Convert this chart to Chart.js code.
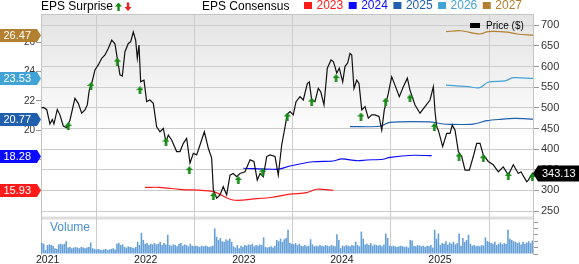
<!DOCTYPE html>
<html>
<head>
<meta charset="utf-8">
<script src="https://cdn.jsdelivr.net/npm/chart.js@4/dist/chart.umd.min.js"></script>
<style>
  html, body { margin: 0; padding: 0; background: #fff; }
  canvas { display: block; }
</style>
</head>
<body>
<canvas id="c" width="579" height="264"></canvas>
<script>
// ---- Price history (decimal year, $) ----
const priceDates = [2020.937, 2020.955, 2020.990, 2021.023, 2021.047, 2021.064, 2021.098, 2021.125, 2021.159, 2021.194,
  2021.227, 2021.278, 2021.312, 2021.347, 2021.380, 2021.404, 2021.424, 2021.449, 2021.482, 2021.516,
  2021.551, 2021.584, 2021.618, 2021.653, 2021.686, 2021.710, 2021.737, 2021.761, 2021.788, 2021.822,
  2021.846, 2021.873, 2021.897, 2021.914, 2021.931, 2021.948, 2021.982, 2022.009, 2022.043, 2022.077,
  2022.111, 2022.145, 2022.179, 2022.206, 2022.230, 2022.264, 2022.315, 2022.349, 2022.383, 2022.417,
  2022.451, 2022.485, 2022.519, 2022.553, 2022.597, 2022.638, 2022.672, 2022.689, 2022.723, 2022.757,
  2022.790, 2022.825, 2022.859, 2022.892, 2022.927, 2022.961, 2023.012, 2023.063, 2023.103, 2023.137,
  2023.165, 2023.198, 2023.233, 2023.267, 2023.318, 2023.351, 2023.386, 2023.420, 2023.443, 2023.471,
  2023.504, 2023.532, 2023.573, 2023.606, 2023.647, 2023.667, 2023.692, 2023.725, 2023.759, 2023.784,
  2023.817, 2023.851, 2023.889, 2023.912, 2023.929, 2023.947, 2023.973, 2024.008, 2024.031, 2024.059,
  2024.082, 2024.100, 2024.123, 2024.151, 2024.174, 2024.202, 2024.235, 2024.269, 2024.304, 2024.337,
  2024.378, 2024.406, 2024.432, 2024.473, 2024.507, 2024.541, 2024.585, 2024.626, 2024.667, 2024.694,
  2024.745, 2024.796, 2024.847, 2024.898, 2024.932, 2024.949, 2024.966, 2024.983, 2025.027, 2025.068,
  2025.102, 2025.125, 2025.153, 2025.187, 2025.221, 2025.255, 2025.299, 2025.339, 2025.374, 2025.408,
  2025.441, 2025.492, 2025.543, 2025.594, 2025.645, 2025.696, 2025.747, 2025.798, 2025.826, 2025.849,
  2025.884, 2025.900, 2025.948];
const priceValues = [500, 501, 496, 461, 472, 461, 496, 483, 456, 452,
  470, 523, 511, 487, 495, 507, 543, 559, 592, 604,
  620, 628, 644, 664, 655, 620, 580, 577, 636, 656,
  660, 684, 664, 620, 652, 563, 567, 515, 519, 511,
  454, 442, 450, 418, 434, 422, 394, 394, 414, 426,
  366, 390, 386, 410, 442, 402, 378, 301, 281, 289,
  309, 289, 337, 341, 333, 341, 345, 374, 370, 325,
  341, 333, 382, 386, 382, 337, 410, 454, 485, 491,
  483, 515, 527, 519, 559, 563, 519, 515, 547, 539,
  507, 596, 616, 612, 600, 584, 596, 563, 600, 609,
  632, 628, 547, 567, 559, 495, 503, 475, 483, 483,
  479, 446, 495, 535, 575, 555, 527, 551, 572, 543,
  507, 487, 503, 519, 551, 491, 454, 446, 406, 438,
  438, 458, 446, 394, 382, 349, 349, 382, 414, 414,
  386, 370, 362, 345, 357, 337, 362, 341, 345, 335,
  321, 325, 343.13];

// ---- EPS surprise events (all positive beats), plotted on the price line ----
const surpriseDates = [2021.210, 2021.441, 2021.710, 2021.941, 2022.206, 2022.444, 2022.689, 2022.943, 2023.192, 2023.443,
  2023.692, 2023.940, 2024.194, 2024.446, 2024.694, 2024.942, 2025.194, 2025.441, 2025.696, 2025.941];
const surprisePrices = [456, 553, 612, 543, 418, 349, 286, 325, 345, 479,
  515, 572, 479, 515, 523, 454, 382, 378, 335, 333];

// ---- EPS consensus by fiscal year ----
const eps2023Dates = [2021.992, 2022.145, 2022.349, 2022.685, 2022.889, 2023.131, 2023.297, 2023.471, 2023.641, 2023.743, 2023.912];
const eps2023 = [16.13, 16.13, 15.99, 15.84, 15.27, 15.36, 15.46, 15.67, 15.77, 16.00, 15.93];
const eps2024Dates = [2022.994, 2023.297, 2023.369, 2023.471, 2023.705, 2023.909, 2023.998, 2024.151, 2024.253, 2024.419, 2024.490, 2024.725, 2024.915];
const eps2024 = [17.43, 17.36, 17.38, 17.58, 17.87, 17.92, 18.06, 17.94, 17.99, 18.04, 18.17, 18.31, 18.28];
const eps2025Dates = [2024.082, 2024.388, 2024.490, 2024.898, 2024.999, 2025.102, 2025.336, 2025.479, 2025.612, 2025.765, 2025.948];
const eps2025 = [20.26, 20.28, 20.55, 20.58, 20.47, 20.41, 20.43, 20.66, 20.75, 20.81, 20.77];
const eps2026Dates = [2025.061, 2025.286, 2025.405, 2025.490, 2025.663, 2025.745, 2025.948];
const eps2026 = [23.08, 22.97, 22.90, 23.27, 23.36, 23.58, 23.53];
const eps2027Dates = [2025.061, 2025.211, 2025.408, 2025.490, 2025.684, 2025.786, 2025.948];
const eps2027 = [26.71, 26.77, 26.55, 26.71, 26.68, 26.55, 26.47];

// ---- Weekly volume (thousands of shares) ----
const volumeStart = 2020.94;
const weekInYears = 7 / 365.25;
const volumeK = [17, 16, 6, 14, 15, 14, 13, 9, 8, 15,
  16, 15, 16, 20, 10, 11, 9, 10, 11, 10,
  9, 11, 10, 9, 10, 11, 18, 9, 8, 7,
  8, 7, 6, 7, 8, 6, 7, 8, 9, 7,
  16, 17, 14, 15, 11, 10, 12, 11, 10, 9,
  11, 19, 14, 33, 22, 16, 17, 14, 16, 15,
  17, 15, 16, 19, 14, 17, 15, 30, 14, 13,
  15, 14, 12, 16, 17, 13, 15, 14, 12, 16,
  13, 12, 13, 12, 11, 13, 12, 13, 12, 11,
  12, 13, 40, 27, 22, 25, 20, 19, 23, 21,
  24, 19, 12, 10, 14, 9, 13, 11, 14, 13,
  15, 14, 16, 12, 14, 13, 15, 14, 26, 11,
  10, 11, 12, 10, 13, 22, 20, 24, 19, 23,
  25, 38, 17, 16, 15, 17, 14, 16, 13, 12,
  14, 12, 13, 23, 15, 12, 13, 12, 14, 13,
  12, 14, 13, 12, 14, 13, 12, 31, 22, 9,
  13, 12, 14, 13, 12, 14, 13, 19, 14, 12,
  35, 24, 15, 16, 14, 17, 13, 15, 14, 13,
  14, 12, 15, 32, 25, 13, 12, 13, 12, 11,
  12, 13, 12, 11, 12, 10, 22, 21, 13, 12,
  14, 13, 12, 13, 11, 13, 12, 14, 10, 38,
  24, 32, 14, 17, 16, 20, 15, 18, 16, 19,
  15, 17, 32, 13, 25, 19, 22, 30, 16, 13,
  14, 12, 13, 12, 14, 13, 26, 20, 19, 17,
  16, 19, 14, 16, 18, 15, 17, 16, 38, 24,
  22, 20, 19, 17, 18, 15, 19, 16, 18, 20,
  17, 21];

// ---- Axis tick values ----
const yearTicks = [2021, 2022, 2023, 2024, 2025];
const priceTicks = [250, 300, 350, 400, 450, 500, 550, 600, 650, 700];
const epsTicks = [16, 18, 20, 22, 24, 26];
const volumeTicks = [0, 10, 20, 30, 40, 50];

const FONT = "'Liberation Sans', Arial, Helvetica, sans-serif";
const COLORS = {
  price: '#111111',
  y2023: '#ff1a1a',
  y2024: '#0a0aff',
  y2025: '#1f5fae',
  y2026: '#41a3d6',
  y2027: '#b3802f',
  beat: '#158a15',
  miss: '#ee1c1c',
  volume: '#649fd8',
  grid: '#cccccc'
};

const zip = (xs, ys) => xs.map((x, i) => ({ x, y: ys[i] }));

function arrowIcon(color) {
  const c = document.createElement('canvas');
  c.width = 7; c.height = 8;
  const g = c.getContext('2d');
  g.fillStyle = color;
  g.beginPath();
  g.moveTo(3.5, 0); g.lineTo(7, 4); g.lineTo(4.8, 4); g.lineTo(4.8, 8);
  g.lineTo(2.2, 8); g.lineTo(2.2, 4); g.lineTo(0, 4);
  g.closePath(); g.fill();
  return c;
}

const epsSeries = [
  { label: '2023', dates: eps2023Dates, values: eps2023, color: COLORS.y2023 },
  { label: '2024', dates: eps2024Dates, values: eps2024, color: COLORS.y2024 },
  { label: '2025', dates: eps2025Dates, values: eps2025, color: COLORS.y2025 },
  { label: '2026', dates: eps2026Dates, values: eps2026, color: COLORS.y2026 },
  { label: '2027', dates: eps2027Dates, values: eps2027, color: COLORS.y2027 }
];

// Panel backgrounds: grey-to-white price panel, divider, white volume panel
const PRICE_PANEL_SHARE = 0.844;
const panels = {
  id: 'panels',
  beforeDraw(chart) {
    const { ctx, chartArea: a } = chart;
    const split = a.top + (a.bottom - a.top) * PRICE_PANEL_SHARE;
    ctx.save();
    const grad = ctx.createLinearGradient(0, a.top, 0, split);
    grad.addColorStop(0, '#e3e3e3');
    grad.addColorStop(0.62, '#ffffff');
    grad.addColorStop(1, '#ffffff');
    ctx.fillStyle = grad;
    ctx.fillRect(a.left, a.top, a.right - a.left, split - a.top);
    ctx.fillStyle = '#dddddd';
    ctx.fillRect(a.left, split, a.right - a.left, 3);
    ctx.strokeStyle = '#c4c4c4';
    ctx.lineWidth = 1;
    ctx.beginPath();
    ctx.moveTo(a.left, a.top + 0.5); ctx.lineTo(a.right, a.top + 0.5);
    ctx.stroke();
    ctx.restore();
  }
};

// Header, value tags and panel captions
const overlay = {
  id: 'overlay',
  afterDraw(chart) {
    const { ctx, chartArea: a, scales } = chart;
    ctx.save();
    ctx.textBaseline = 'middle';

    // header: EPS Surprise with beat / miss arrows
    ctx.font = '12px ' + FONT;
    ctx.fillStyle = '#000';
    ctx.textAlign = 'left';
    ctx.fillText('EPS Surprise', a.left, 7);
    let x = a.left + ctx.measureText('EPS Surprise').width + 2;
    ctx.fillStyle = COLORS.beat;
    ctx.beginPath();
    ctx.moveTo(x + 3.5, 2.5); ctx.lineTo(x + 7, 6.5); ctx.lineTo(x + 4.7, 6.5); ctx.lineTo(x + 4.7, 11);
    ctx.lineTo(x + 2.3, 11); ctx.lineTo(x + 2.3, 6.5); ctx.lineTo(x, 6.5); ctx.closePath(); ctx.fill();
    x += 9.5;
    ctx.fillStyle = COLORS.miss;
    ctx.beginPath();
    ctx.moveTo(x + 3.5, 11); ctx.lineTo(x + 7, 7); ctx.lineTo(x + 4.7, 7); ctx.lineTo(x + 4.7, 2.5);
    ctx.lineTo(x + 2.3, 2.5); ctx.lineTo(x + 2.3, 7); ctx.lineTo(x, 7); ctx.closePath(); ctx.fill();

    // header: EPS Consensus legend
    ctx.fillStyle = '#000';
    ctx.fillText('EPS Consensus', 202, 7);
    x = 304;
    epsSeries.forEach(s => {
      ctx.fillStyle = s.color;
      ctx.fillRect(x, 2, 8, 7);
      x += 12.5;
      ctx.fillText(s.label, x, 6);
      x += ctx.measureText(s.label).width + 5.5;
    });

    // price legend inside the plot
    ctx.fillStyle = '#000';
    ctx.fillRect(470, 23, 10, 5);
    ctx.font = '10px ' + FONT;
    ctx.fillText('Price ($)', 486, 26);

    // volume caption
    ctx.font = '12px ' + FONT;
    ctx.fillStyle = '#4a8fd4';
    ctx.fillText('Volume', a.left + 9, 228);

    // latest EPS consensus tags on the left
    ctx.font = '11px ' + FONT;
    epsSeries.forEach(s => {
      const v = s.values[s.values.length - 1];
      const yy = Math.round(scales.yEps.getPixelForValue(v)) + 0.5;
      ctx.fillStyle = s.color;
      ctx.beginPath();
      ctx.moveTo(0, yy - 6.5); ctx.lineTo(37, yy - 6.5); ctx.lineTo(41, yy);
      ctx.lineTo(37, yy + 6.5); ctx.lineTo(0, yy + 6.5); ctx.closePath(); ctx.fill();
      ctx.fillStyle = '#fff';
      ctx.fillText(v.toFixed(2), 3.5, yy + 0.5);
    });

    // latest price tag on the right
    const last = priceValues[priceValues.length - 1];
    const py = Math.round(scales.yPrice.getPixelForValue(last)) + 0.5;
    ctx.fillStyle = '#000';
    ctx.beginPath();
    ctx.moveTo(a.right, py); ctx.lineTo(a.right + 5, py - 8); ctx.lineTo(579, py - 8);
    ctx.lineTo(579, py + 8); ctx.lineTo(a.right + 5, py + 8); ctx.closePath(); ctx.fill();
    ctx.fillStyle = '#fff';
    ctx.font = '11px ' + FONT;
    ctx.fillText(last.toFixed(2), a.right + 9, py + 0.5);
    ctx.restore();
  }
};

const datasets = [
  {
    type: 'scatter', label: 'EPS Surprise', data: zip(surpriseDates, surprisePrices),
    yAxisID: 'yPrice', pointStyle: arrowIcon(COLORS.beat), pointRadius: 4, clip: false, order: 0
  },
  {
    type: 'line', label: 'Price ($)', data: zip(priceDates, priceValues), yAxisID: 'yPrice',
    borderColor: COLORS.price, borderWidth: 1.2, pointRadius: 0, tension: 0, order: 1
  },
  ...epsSeries.map(s => ({
    type: 'line', label: s.label, data: zip(s.dates, s.values), yAxisID: 'yEps',
    borderColor: s.color, borderWidth: 1.2, pointRadius: 0, tension: 0.3, order: 2
  })),
  {
    type: 'bar', label: 'Volume', yAxisID: 'yVol',
    data: volumeK.map((v, i) => ({ x: volumeStart + i * weekInYears, y: v })),
    backgroundColor: COLORS.volume, barPercentage: 0.85, categoryPercentage: 1, order: 3
  }
];

new Chart(document.getElementById('c'), {
  type: 'line',
  data: { datasets },
  plugins: [panels, overlay],
  options: {
    responsive: false,
    animation: false,
    events: [],
    layout: { padding: { top: 14, left: 0, right: 0, bottom: 0 } },
    plugins: { legend: { display: false }, tooltip: { enabled: false } },
    scales: {
      x: {
        type: 'linear', min: 2020.932, max: 2025.948, offset: false,
        afterBuildTicks: s => { s.ticks = yearTicks.map(v => ({ value: v })); },
        afterFit: s => { s.height = 10; },
        ticks: { callback: v => String(v), autoSkip: false, maxRotation: 0, padding: 0,
                 color: '#222', font: { family: FONT, size: 10.5 } },
        grid: { color: COLORS.grid, drawTicks: false },
        border: { display: false }
      },
      yEps: {
        position: 'left', min: 11.603, max: 27.907,
        afterBuildTicks: s => { s.ticks = epsTicks.map(v => ({ value: v })); },
        afterFit: s => { s.width = 41; },
        ticks: { autoSkip: false, padding: 1, color: '#333', font: { family: FONT, size: 10 } },
        grid: { drawOnChartArea: false, tickLength: 5, color: '#999' },
        border: { display: true, color: '#c4c4c4' }
      },
      yVol: {
        position: 'right', weight: 0, min: 0, max: 375,
        afterBuildTicks: s => { s.ticks = volumeTicks.map(v => ({ value: v })); },
        afterFit: s => { s.width = 0; },
        ticks: { autoSkip: false, padding: 1, color: '#333', font: { family: FONT, size: 7.5 },
                 callback: v => (v === 0 ? '0' : v + 'k') },
        grid: { drawOnChartArea: false, tickLength: 5, color: '#999' },
        border: { display: false }
      },
      yPrice: {
        position: 'right', weight: 1, min: 145.8, max: 727.4,
        afterBuildTicks: s => { s.ticks = priceTicks.map(v => ({ value: v })); },
        afterFit: s => { s.width = 46; },
        ticks: { autoSkip: false, padding: 2, color: '#333', font: { family: FONT, size: 11 } },
        grid: { color: COLORS.grid, tickLength: 6, tickColor: '#999' },
        border: { display: true, color: '#c4c4c4' }
      }
    }
  }
});
</script>
</body>
</html>
